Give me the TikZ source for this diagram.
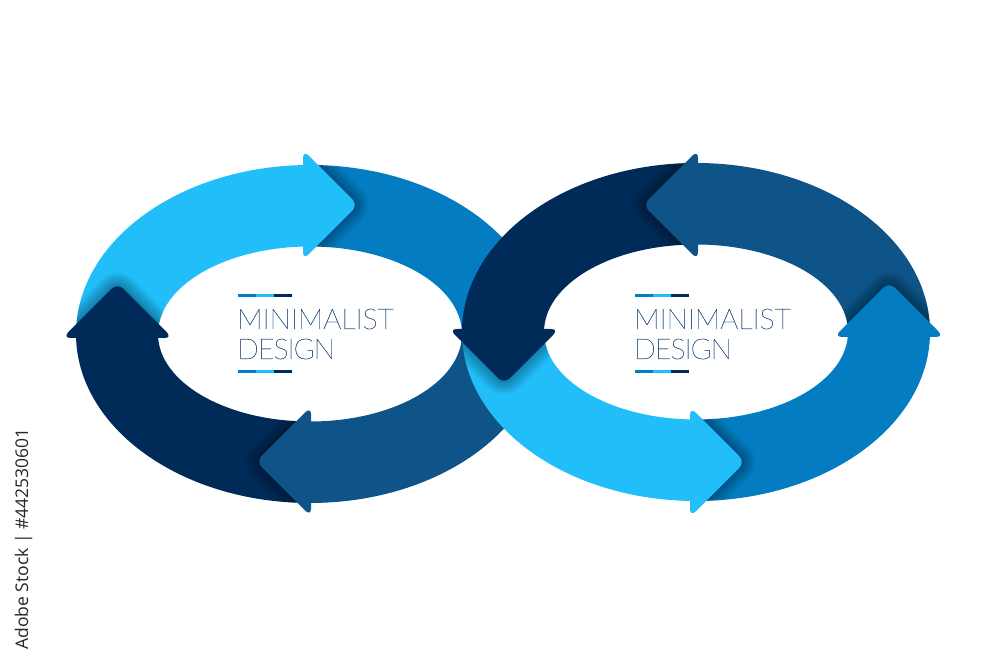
\documentclass[tikz,border=0pt]{standalone}
\usepackage{fontspec}
\newfontfamily\thinfont[FakeBold=0.5]{Lato Hairline}
\newfontfamily\thinnarrow[FakeBold=0.5,LetterSpace=-3.5]{Lato Hairline}
\setsansfont{Open Sans}
\definecolor{lightarrow}{HTML}{21BEF9}
\definecolor{bluearrow}{HTML}{047CC2}
\definecolor{steelarrow}{HTML}{0F5488}
\definecolor{navyarrow}{HTML}{002A58}
\definecolor{labelink}{HTML}{1F4A78}
% one quarter of a ring: centre, from angle, to angle
\newcommand{\segpath}[3]{([shift={(#2:234 and 169)}]#1) arc[start angle=#2, end angle=#3, x radius=234, y radius=169] -- ([shift={(#3:152 and 87.5)}]#1) arc[start angle=#3, end angle=#2, x radius=152, y radius=87.5] -- cycle}
% arrow head: base point, rotation
\newcommand{\headpath}[2]{[shift={(#1)}, rotate=#2, rounded corners=8] (0,0) -- (0,55) -- (55,0) -- (0,-55) -- cycle}
\newcommand{\headshadow}[5]{%
	\begin{scope}
		\clip \segpath{#3}{#4}{#5};
		\foreach \w in {2,4,...,28}
			\draw[black, opacity=0.022, line width=\w, line join=round] \headpath{#1}{#2};
	\end{scope}
}
\begin{document}
\begin{tikzpicture}[x=1pt, y=1pt]
	\useasboundingbox (0,0) rectangle (1000,666);
	\coordinate (L) at (310,332);
	\coordinate (R) at (696,334);
	\coordinate (Lhl) at (303,461);
	\coordinate (Lhs) at (311,204.5);
	\coordinate (Lhn) at (117.5,328);
	\coordinate (Rhs) at (698,461);
	\coordinate (Rhn) at (504,337);
	\coordinate (Rhl) at (690,204);
	\coordinate (Rhb) at (889,329);
	% left ring
	\fill[bluearrow] \segpath{L}{90}{0};
	\fill[steelarrow] \segpath{L}{0}{-90};
	\fill[navyarrow] \segpath{L}{-90}{-180};
	\fill[lightarrow] \segpath{L}{180}{90};
	\headshadow{Lhl}{0}{L}{90}{0}
	\headshadow{Lhs}{180}{L}{-90}{-180}
	\headshadow{Lhn}{90}{L}{180}{90}
	\fill[lightarrow] \headpath{Lhl}{0};
	\fill[steelarrow] \headpath{Lhs}{180};
	\fill[navyarrow] \headpath{Lhn}{90};
	% right ring
	\fill[navyarrow] \segpath{R}{90}{180};
	\fill[lightarrow] \segpath{R}{180}{270};
	\fill[bluearrow] \segpath{R}{270}{360};
	\fill[steelarrow] \segpath{R}{0}{90};
	\headshadow{Rhs}{180}{R}{90}{180}
	\headshadow{Rhn}{-90}{R}{180}{270}
	\headshadow{Rhl}{0}{R}{270}{360}
	\headshadow{Rhb}{90}{R}{0}{90}
	\fill[steelarrow] \headpath{Rhs}{180};
	\fill[navyarrow] \headpath{Rhn}{-90};
	\fill[lightarrow] \headpath{Rhl}{0};
	\fill[bluearrow] \headpath{Rhb}{90};
	% labels
	\foreach \bx/\tag in {238/a, 635/b} {
		\foreach \by in {369,293} {
			\fill[bluearrow] (\bx,\by) rectangle ++(18,3);
			\fill[lightarrow] (\bx+18,\by) rectangle ++(18,3);
			\fill[navyarrow] (\bx+36,\by) rectangle ++(18,3);
		}
		\node[anchor=base west, inner sep=0pt, text=labelink, font=\thinfont\fontsize{28.5}{29}\selectfont] (top\tag) at (\bx-1,337) {MINIMALIST};
		\node[anchor=base west, inner sep=0pt, text=labelink, font=\thinnarrow\fontsize{28.5}{29}\selectfont] (low\tag) at (\bx-1,307) {DESIGN};
	}
	\node[anchor=base west, rotate=90, inner sep=0pt, text=black!85, font=\sffamily\fontsize{17.5}{17}\selectfont] (stockid) at (28,16) {Adobe Stock | \#442530601};
\end{tikzpicture}
\end{document}
